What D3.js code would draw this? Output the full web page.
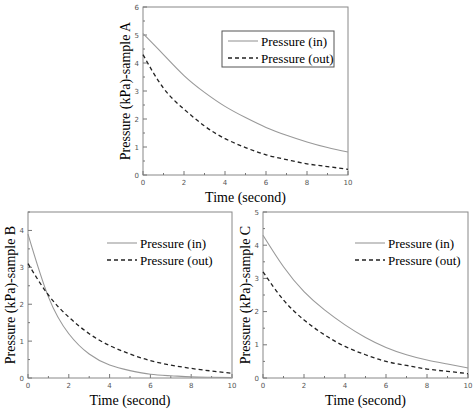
<!DOCTYPE html>
<html><head><meta charset="utf-8">
<script src="https://cdn.jsdelivr.net/npm/d3@7"></script>
<style>body{margin:0;background:#fff}</style>
</head><body>
<script>
const times = [0,1,2,3,4,5,6,7,8,9,10];
const aIn  = [5.05,4.3,3.55,2.95,2.45,2.05,1.7,1.42,1.18,0.98,0.82];
const aOut = [4.3,3.1,2.35,1.75,1.3,0.98,0.72,0.55,0.4,0.3,0.2];
const bIn  = [3.9,2.2,1.2,0.65,0.35,0.2,0.1,0.06,0.03,0.02,0.01];
const bOut = [3.1,2.25,1.65,1.2,0.88,0.65,0.47,0.35,0.26,0.19,0.13];
const cIn  = [4.3,3.35,2.6,2.05,1.6,1.22,0.92,0.7,0.54,0.42,0.3];
const cOut = [3.2,2.35,1.75,1.3,0.95,0.7,0.5,0.38,0.27,0.2,0.13];
const seriesNames = ["Pressure (in)","Pressure (out)"];

const svg = d3.select("body").append("svg").attr("width",474).attr("height",410);

function panel(o){
  const g = svg.append("g");
  const x = d3.scaleLinear().domain([0,10]).range([o.l,o.r]);
  const y = d3.scaleLinear().domain([0,o.ymax]).range([o.b,o.t]);
  g.append("rect").attr("x",o.l).attr("y",o.t).attr("width",o.r-o.l).attr("height",o.b-o.t)
    .attr("fill","none").attr("stroke","#888");
  const xt = d3.range(0,11,1), yt = d3.range(0,o.ymax+0.01,0.5);
  g.append("g").selectAll("line").data(xt).join("line")
    .attr("x1",d=>x(d)).attr("x2",d=>x(d)).attr("y1",o.b).attr("y2",d=>o.b-(d%2?2:4)).attr("stroke","#777");
  g.append("g").selectAll("line").data(yt).join("line")
    .attr("y1",d=>y(d)).attr("y2",d=>y(d)).attr("x1",o.l).attr("x2",d=>o.l+(d%1?2:4)).attr("stroke","#777");
  g.append("g").selectAll("text").data(d3.range(0,11,2)).join("text")
    .attr("x",d=>x(d)).attr("y",o.b+10).attr("text-anchor","middle")
    .attr("font-family","DejaVu Sans").attr("font-size",7).attr("fill","#555").text(d=>d);
  g.append("g").selectAll("text").data(d3.range(0,Math.floor(o.ymax)+1,1)).join("text")
    .attr("x",o.l-4).attr("y",d=>y(d)+2.5).attr("text-anchor","end")
    .attr("font-family","DejaVu Sans").attr("font-size",7).attr("fill","#555").text(d=>d);
  const line = d3.line().x((d,i)=>x(times[i])).y(d=>y(d)).curve(d3.curveNatural);
  g.append("path").attr("d",line(o.inV)).attr("fill","none").attr("stroke","#999").attr("stroke-width",1.1);
  g.append("path").attr("d",line(o.outV)).attr("fill","none").attr("stroke","#222").attr("stroke-width",1.3).attr("stroke-dasharray","4,3");
  g.append("text").attr("x",(o.l+o.r)/2).attr("y",o.b+27).attr("text-anchor","middle")
    .attr("font-family","Liberation Serif").attr("font-size",14).text("Time (second)");
  g.append("text").attr("transform",`translate(${o.l-13},${(o.t+o.b)/2}) rotate(-90)`).attr("text-anchor","middle")
    .attr("font-family","Liberation Serif").attr("font-size",14).text(o.ylab);
  if(o.box) g.append("rect").attr("x",o.lx-6).attr("y",o.ly-10).attr("width",112).attr("height",36)
    .attr("fill","#fff").attr("stroke","#555");
  seriesNames.forEach((s,i)=>{
    const yy = o.ly + i*17;
    g.append("line").attr("x1",o.lx).attr("x2",o.lx+30).attr("y1",yy).attr("y2",yy)
      .attr("stroke",i?"#222":"#999").attr("stroke-width",i?1.3:1.1).attr("stroke-dasharray",i?"4,3":null);
    g.append("text").attr("x",o.lx+33).attr("y",yy+4.5).attr("font-family","Liberation Serif")
      .attr("font-size",13).text(s);
  });
}
panel({l:143,r:348,t:7,b:175,ymax:6,inV:aIn,outV:aOut,ylab:"Pressure (kPa)-sample A",box:true,lx:228,ly:41});
panel({l:28,r:232,t:212,b:378,ymax:4.5,inV:bIn,outV:bOut,ylab:"Pressure (kPa)-sample B",box:false,lx:107,ly:243});
panel({l:263,r:468,t:212,b:378,ymax:5,inV:cIn,outV:cOut,ylab:"Pressure (kPa)-sample C",box:false,lx:355,ly:243});
</script>
</body></html>
